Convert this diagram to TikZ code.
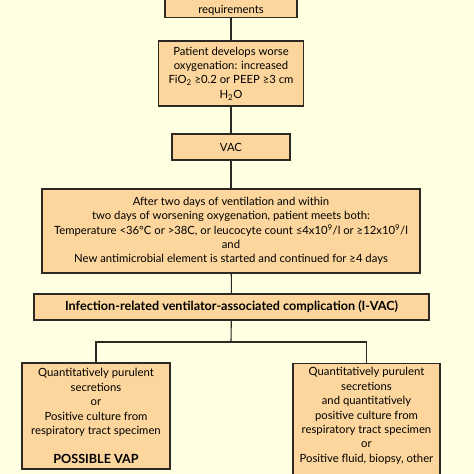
\documentclass[tikz,border=0pt]{standalone}
\usepackage{fontspec}
\setmainfont{Lato}
\usepackage[dvipsnames]{xcolor}
\usetikzlibrary{positioning}
\definecolor{paper}{RGB}{255,255,226}
\definecolor{boxfill}{RGB}{252,214,156}
\definecolor{boxline}{RGB}{45,40,35}
\newcommand{\bigbold}[1]{{\fontsize{12.6}{14.4}\selectfont\bfseries #1}}
\tikzset{
	critbox/.style={draw=boxline, fill=boxfill, line width=1.1pt, align=center, font=\fontsize{11.3}{14.4}\selectfont, inner sep=0pt},
	link/.style={draw=boxline, line width=1.1pt}
}
\begin{document}
\begin{tikzpicture}[x=1pt,y=-1pt]
				%background
				\fill[paper] (0,0) rectangle (474,474);
				\useasboundingbox (0,0) rectangle (474,474);
				
				% boxes
				\node[critbox, anchor=south, minimum width=132pt, text height=34pt, text depth=4pt] (req) at (231,18) {requirements};
				\node[critbox, minimum width=145pt, minimum height=65pt] (worse) at (231,73.5) {Patient develops worse\\oxygenation: increased\\FiO\textsubscript{2} ≥0.2 or PEEP ≥3 cm\\H\textsubscript{2}O};
				\node[critbox, minimum width=118pt, minimum height=26pt] (vac) at (231,147) {VAC};
				\node[critbox, minimum width=378pt, minimum height=84pt] (both) at (231,231) {After two days of ventilation and within\\two days of worsening oxygenation, patient meets both:\\Temperature <36°C or >38C, or leucocyte count ≤4x10\textsuperscript{9}/l or ≥12x10\textsuperscript{9}/l\\and\\New antimicrobial element is started and continued for ≥4 days};
				\node[critbox, minimum width=395pt, minimum height=26pt] (ivac) at (231.5,307) {\bigbold{Infection-related ventilator-associated complication (I-VAC)}};
				\node[critbox, minimum width=148pt, minimum height=106pt] (possible) at (96,416) {Quantitatively purulent\\secretions\\or\\Positive culture from\\respiratory tract specimen\\[14.4pt]\bigbold{POSSIBLE VAP}};
				\node[critbox, anchor=north, minimum width=147pt] (probable) at (366.5,363) {\parbox[t][122pt][t]{147pt}{\centering\vspace{4pt}Quantitatively purulent\\secretions\\and quantitatively\\positive culture from\\respiratory tract specimen\\or\\Positive fluid, biopsy, other}};
				
				% connectors
				\coordinate (split) at (231,342);
				\draw[link] (req) -- (worse);
				\draw[link] (worse) -- (vac);
				\draw[link] (vac) -- (both);
				\draw[link] (both) -- (ivac);
				\draw[link] (ivac) -- (split);
				\draw[link] (split) -| (possible);
				\draw[link] (split) -| (probable);
			\end{tikzpicture}
\end{document}
